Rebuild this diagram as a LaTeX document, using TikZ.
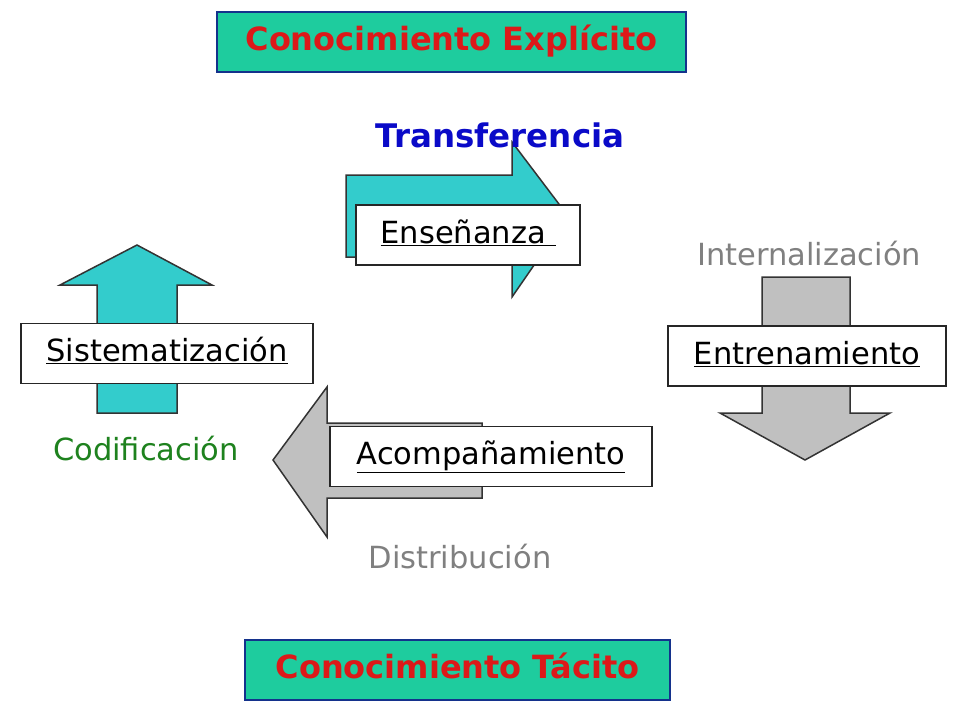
\documentclass[tikz,border=0pt]{standalone}
\usepackage{fontspec}
\setmainfont{DejaVu Sans}
\definecolor{turq}{RGB}{51,204,204}
\definecolor{plata}{RGB}{192,192,192}
\definecolor{menta}{RGB}{30,204,158}
\definecolor{marino}{RGB}{20,50,140}
\definecolor{rojotit}{RGB}{220,25,25}
\definecolor{azultxt}{RGB}{10,10,200}
\definecolor{verdetxt}{RGB}{30,130,30}
\definecolor{gristxt}{RGB}{128,128,128}
\begin{document}
\begin{tikzpicture}[x=1pt, y=-1pt,
		labelbox/.style={draw=black!85, line width=1.6pt, fill=white, minimum height=60pt, inner sep=0pt, text height=22pt, text depth=6pt, font=\fontsize{30.5}{36}\selectfont},
		titlebox/.style={draw=marino, line width=2pt, fill=menta, minimum height=60pt, inner sep=0pt, text height=22pt, text depth=6pt, text=rojotit, font=\fontsize{32}{38}\selectfont\bfseries},
		tealarrow/.style={draw=black!80, line width=1.5pt, fill=turq},
		grayarrow/.style={draw=black!80, line width=1.5pt, fill=plata},
		caption/.style={anchor=base, font=\fontsize{30.5}{36}\selectfont}]
	\fill[white] (0,0) rectangle (960,720);
	\useasboundingbox (0,0) rectangle (960,720);
	% conocimiento explicito / tacito
	\node[titlebox, minimum width=469pt](explicito) at (451.5,42) {Conocimiento Explícito};
	\node[titlebox, minimum width=425pt](tacito) at (457.5,670) {Conocimiento Tácito};
	% transferencia
	\draw[tealarrow] (346,175) -- (512,175) -- (512,142) -- (568,216) -- (512,297) -- (512,257) -- (346,257) -- cycle;
	\node[caption, text=azultxt, font=\fontsize{32.5}{38}\selectfont\bfseries](transferencia) at (500,147) {Transferencia};
	\node[labelbox, minimum width=224pt](ensenanza) at (468,235) {\underline{Enseñanza\ }};
	% internalizacion
	\draw[grayarrow] (762,277) -- (850,277) -- (850,413) -- (890,413) -- (805,460) -- (720,413) -- (762,413) -- cycle;
	\node[caption, text=gristxt](internalizacion) at (809,265) {Internalización};
	\node[labelbox, minimum width=278pt](entrenamiento) at (807,356) {\underline{Entrenamiento}};
	% distribucion
	\draw[grayarrow] (482,423) -- (327,423) -- (327,387) -- (273,460) -- (327,537) -- (327,498) -- (482,498) -- cycle;
	\node[caption, text=gristxt](distribucion) at (460,568) {Distribución};
	\node[labelbox, minimum width=322pt](acompanamiento) at (491,456.5) {\underline{Acompañamiento}};
	% codificacion
	\draw[tealarrow] (97,413) -- (97,285) -- (60,285) -- (137,245) -- (212,285) -- (177,285) -- (177,413) -- cycle;
	\node[caption, text=verdetxt](codificacion) at (146,460) {Codificación};
	\node[labelbox, minimum width=292pt](sistematizacion) at (167,353.5) {\underline{Sistematización}};
\end{tikzpicture}
\end{document}
